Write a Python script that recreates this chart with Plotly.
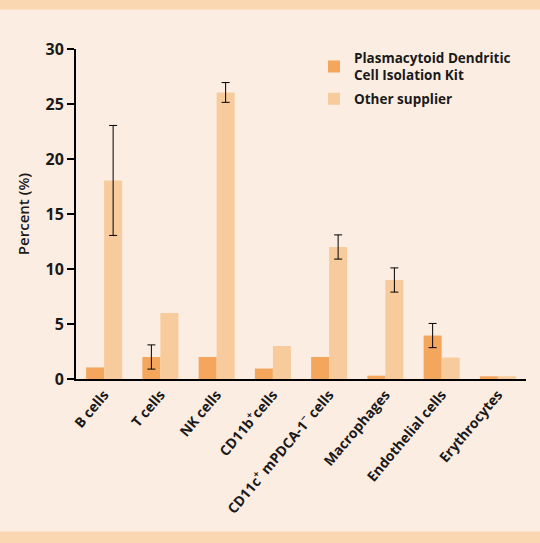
import plotly.graph_objects as go

categories = ["B cells", "T cells", "NK cells", "CD11b<sup>+</sup>cells",
              "CD11c<sup>+</sup> mPDCA-1<sup>−</sup> cells", "Macrophages",
              "Endothelial cells", "Erythrocytes"]
kit_values = [1.05, 2.0, 2.0, 0.95, 2.0, 0.3, 3.95, 0.25]
kit_errors = [None, 1.1, None, None, None, None, 1.1, None]
other_values = [18.05, 6.0, 26.05, 3.0, 12.0, 9.0, 1.95, 0.25]
other_errors = [5.0, None, 0.9, None, 1.1, 1.1, None, None]
y_ticks = [0, 5, 10, 15, 20, 25, 30]

FONT = "Open Sans"
BG = "#FCEDE2"
BAND = "#FAD6B1"
DARK = "#F3A65C"
LIGHT = "#F7CB9C"

def err_only(values, errors):
    return [v if e is not None else None for v, e in zip(values, errors)]

def err_list(errors):
    return [e if e is not None else 0 for e in errors]

fig = go.Figure()
fig.add_trace(go.Bar(
    x=categories, y=kit_values, name="Plasmacytoid Dendritic<br>Cell Isolation Kit",
    marker=dict(color=DARK, line=dict(width=0)), offsetgroup="kit",
    legendgroup="kit",
))
fig.add_trace(go.Bar(
    x=categories, y=other_values, name="Other supplier",
    marker=dict(color=LIGHT, line=dict(width=0)), offsetgroup="other",
    legendgroup="other",
))
# error bars only where the reference shows them
fig.add_trace(go.Bar(
    x=categories, y=err_only(kit_values, kit_errors), offsetgroup="kit",
    marker=dict(color="rgba(0,0,0,0)", line=dict(width=0)), showlegend=False,
    hoverinfo="skip",
    error_y=dict(type="data", array=err_list(kit_errors), visible=True,
                 color="#000000", thickness=1, width=4),
))
fig.add_trace(go.Bar(
    x=categories, y=err_only(other_values, other_errors), offsetgroup="other",
    marker=dict(color="rgba(0,0,0,0)", line=dict(width=0)), showlegend=False,
    hoverinfo="skip",
    error_y=dict(type="data", array=err_list(other_errors), visible=True,
                 color="#000000", thickness=1, width=4),
))

L, R, T, B = 76, 14, 49, 164
W, H = 540, 543
pw, ph = W - L - R, H - T - B

shapes = [
    dict(type="rect", xref="paper", yref="paper", layer="below",
         x0=-L / pw, x1=(W - L) / pw, y0=(H - B) / ph, y1=(H - B - 9.5) / ph,
         fillcolor=BAND, line=dict(width=0)),
    dict(type="rect", xref="paper", yref="paper", layer="below",
         x0=-L / pw, x1=(W - L) / pw, y0=(H - B - 531.5) / ph, y1=(H - B - H) / ph,
         fillcolor=BAND, line=dict(width=0)),
]

fig.update_layout(
    width=W, height=H,
    margin=dict(l=L, r=R, t=T, b=B),
    paper_bgcolor=BG, plot_bgcolor=BG,
    barmode="group", bargap=0.36, bargroupgap=0,
    font=dict(family=FONT, color="#1a1a1a"),
    shapes=shapes,
    showlegend=True,
    legend=dict(x=(314 - L) / pw, y=1.02, xanchor="left", yanchor="top",
                bgcolor="rgba(0,0,0,0)", font=dict(size=13.5, family=FONT, weight="bold"),
                itemsizing="constant", tracegroupgap=3, itemwidth=30),
    xaxis=dict(
        showline=True, linecolor="#000000", linewidth=2, ticks="",
        tickangle=-50, tickfont=dict(size=14, family=FONT, weight="bold"),
        showgrid=False, zeroline=False, fixedrange=True,
    ),
    yaxis=dict(
        range=[0, 30], tickvals=y_ticks, showline=True, linecolor="#000000",
        linewidth=2, ticks="outside", ticklen=7, tickwidth=2, tickcolor="#000000",
        tickfont=dict(size=16, family=FONT, weight="bold"),
        showgrid=False, zeroline=False,
        title=dict(text="Percent (%)", font=dict(size=15, family=FONT, weight=600),
                   standoff=12),
    ),
)

fig.write_html("out.html",
               config={"displayModeBar": False},
               post_script="document.body.style.margin='0';"
                           "document.body.style.overflow='hidden';")
